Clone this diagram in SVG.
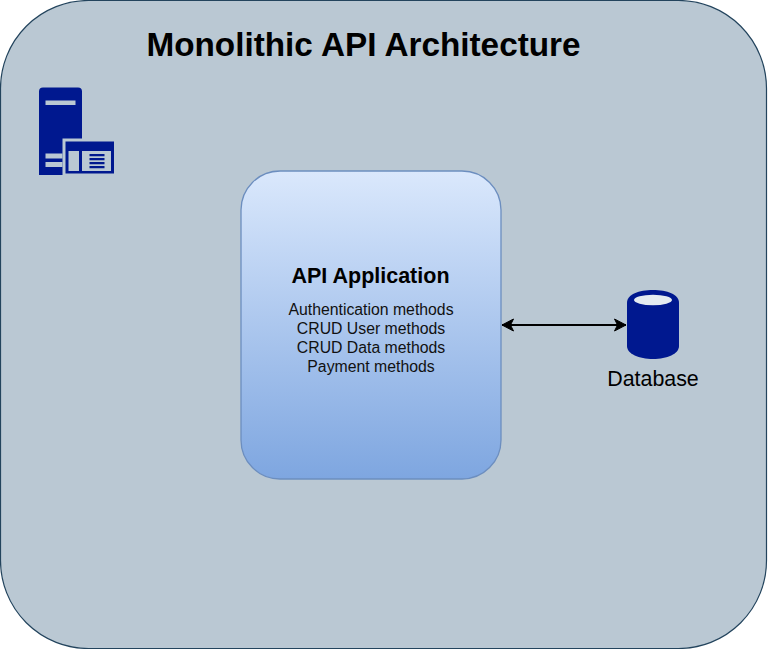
<svg xmlns="http://www.w3.org/2000/svg" width="768" height="649" viewBox="0 0 768 649">
<style>
text{font-family:"Liberation Sans",Arial,sans-serif;text-anchor:middle;fill:#000}
.m{font-size:15.800px;fill:#111}
.ic{fill:#00188f}
.bg{fill:#bac8d3}
</style>
<defs>
<linearGradient id="g" x1="0" y1="0" x2="0" y2="1"><stop offset="0" stop-color="#dae8fc"/><stop offset="1" stop-color="#7ea6e0"/></linearGradient>
<marker id="a" viewBox="0 0 13 14" refX="12" refY="7" markerWidth="13" markerHeight="14" orient="auto-start-reverse" markerUnits="userSpaceOnUse"><path d="M0.500 1L12 7L0.500 13L3.500 7Z" fill="#000" stroke="#000" stroke-width="1"/></marker>
</defs>
<rect width="768" height="649" fill="#fff"/>
<g id="boundary"><rect x="0.500" y="0.500" width="766" height="648" rx="88" class="bg" stroke="#23445d" stroke-width="1.200"/>
<text x="363.500" y="56" font-size="33.300" font-weight="bold">Monolithic API Architecture</text></g>
<g id="server-icon">
<path class="ic" d="M43 87.500H78Q82 87.500 82 91.500V138.500H62.500V175H39V91.500Q39 87.500 43 87.500Z"/>
<rect x="45.500" y="100.500" width="30" height="4.500" class="bg"/>
<rect x="45.500" y="153.500" width="17" height="5" class="bg"/>
<rect x="45.500" y="162" width="17" height="5" class="bg"/>
<rect x="65.500" y="141.500" width="48.500" height="32" class="ic"/>
<rect x="68.500" y="151" width="10.500" height="20" class="bg"/>
<rect x="82" y="151" width="29" height="20" class="bg"/>
<path class="ic" d="M89.500 154h15v2.200h-15zM89.500 158h15v2.200h-15zM89.500 162h15v2.200h-15zM89.500 166h15v2.200h-15z"/>
</g>
<g id="api-application"><rect x="241" y="171" width="260" height="308" rx="39" fill="url(#g)" stroke="#6c8ebf" stroke-width="1.300"/>
<text x="370.500" y="282.500" font-size="21.500" font-weight="bold">API Application</text>
<text x="371" y="315" class="m">Authentication methods</text>
<text x="371" y="334" class="m">CRUD User methods</text>
<text x="371" y="353" class="m">CRUD Data methods</text>
<text x="371" y="372" class="m">Payment methods</text></g>
<g id="database">
<path class="ic" d="M627 303C627 294 639 290 653 290C667 290 679 294 679 303V346C679 354 667 359 653 359C639 359 627 354 627 346Z"/>
<ellipse cx="653" cy="300" rx="19" ry="5.200" fill="#e4ebf1"/>
<text x="653" y="385.500" font-size="21.400" fill="#111">Database</text></g>
<g id="connectors"><line x1="502" y1="325" x2="626" y2="325" stroke="#000" stroke-width="2" marker-start="url(#a)" marker-end="url(#a)"/></g>
</svg>
